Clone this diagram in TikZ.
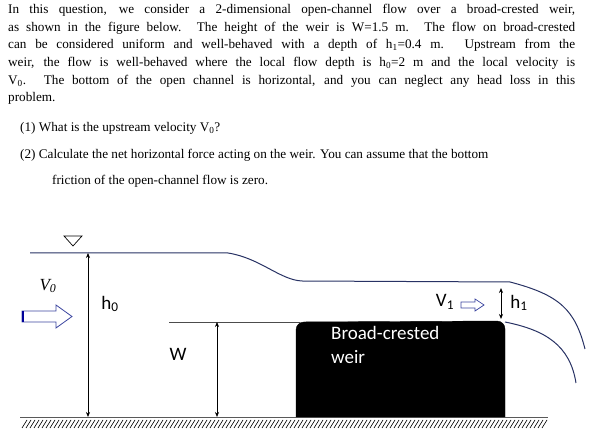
\documentclass[tikz,border=0pt]{standalone}
\usepackage{fontspec}
\setmainfont{Liberation Serif}
\newfontfamily\calfnt{Carlito}
\usetikzlibrary{arrows.meta,patterns}
\begin{document}
\begin{tikzpicture}[x=1pt,y=-1pt,
  dim/.style={{Stealth[length=5pt,width=4pt]}-{Stealth[length=5pt,width=4pt]},line width=0.7pt},
  surf/.style={draw={rgb,255:red,40;green,50;blue,100},line width=1pt},
  lbl/.style={font=\calfnt\fontsize{19}{19}\selectfont,inner sep=0pt},
  flow/.style={draw={rgb,255:red,60;green,70;blue,160},fill=white,line width=0.8pt}]
\useasboundingbox (0,0) rectangle (614,430);
\node[anchor=north west,text width=567pt,align=justify,inner sep=0pt,font=\fontsize{13.2}{17.7}\selectfont] (para) at (8,4)
{In this question, we consider a 2-dimensional open-channel flow over a broad-crested weir,\linebreak as shown in the figure below. The height of the weir is W=1.5~m. The flow on broad-crested\linebreak can be considered uniform and well-behaved with a depth of h\textsubscript{1}=0.4~m. Upstream from the\linebreak weir, the flow is well-behaved where the local flow depth is h\textsubscript{0}=2~m and the local velocity is\linebreak V\textsubscript{0}. The bottom of the open channel is horizontal, and you can neglect any head loss in this\linebreak problem.};
\node[anchor=west,inner sep=0pt,font=\fontsize{13.2}{14}\selectfont] (q1) at (20,128) {(1) What is the upstream velocity V\textsubscript{0}?};
\node[anchor=west,inner sep=0pt,font=\fontsize{13.2}{14}\selectfont] (q2) at (20,155) {(2) Calculate the net horizontal force acting on the weir. You can assume that the bottom};
\node[anchor=west,inner sep=0pt,font=\fontsize{13.2}{14}\selectfont] (q3) at (52,181) {friction of the open-channel flow is zero.};
% ground
\coordinate (g0) at (20,417); \coordinate (g1) at (548,417);
\draw[line width=0.8pt,gray!70!black] (g0) -- (g1);
\foreach \x in {22,26,...,544} \draw[line width=0.6pt] (\x,428) -- (\x+5,420);
% weir
\draw[fill=black,rounded corners=8pt] (296,417) -- (296,322) -- (505,321) [sharp corners]-- (505,417) -- cycle;
\node[lbl,text=white,align=left,anchor=west] (weir) at (331,333) {Broad-crested};
\node[lbl,text=white,anchor=west] (weir2) at (331,357) {weir};
% crest line
\draw[line width=0.6pt,gray!60!black] (169,322) -- (300,322);
% surface
\draw[surf] (30,253) -- (228,253) .. controls (260,258) and (280,280) .. (302,281) -- (510,282) .. controls (560,295) and (575,310) .. (585,349);
\draw[surf] (505,322) .. controls (545,330) and (570,345) .. (576,383);
% triangle
\draw[line width=0.7pt] (64,236) -- (82,236) -- (73,246) -- cycle;
% dims
\coordinate (a0) at (88,253); \coordinate (b0) at (88,417);
\draw[dim] (a0) -- (b0);
\coordinate (a1) at (217,322); \coordinate (b1) at (217,417);
\draw[dim] (a1) -- (b1);
\coordinate (a2) at (501,288); \coordinate (b2) at (501,319);
\draw[dim] (a2) -- (b2);
\node[lbl] (h0) at (110,304) {h\textsubscript{0}};
\node[lbl] (W) at (178,354) {W};
\node[lbl] (h1) at (519,303) {h\textsubscript{1}};
\node[lbl] (V1) at (445,302) {V\textsubscript{1}};
\node[inner sep=0pt,font=\fontsize{17}{17}\selectfont\itshape] (V0) at (48,286) {V\textsubscript{0}};
% flow arrows
\draw[flow] (22,311) -- (56,311) -- (56,305) -- (72,316.5) -- (56,328) -- (56,322) -- (22,322) -- cycle;
\draw[line width=2pt,blue!60!black] (23,311) -- (23,322);
\draw[flow,line width=0.7pt] (461,302) -- (475,302) -- (475,299) -- (484,305) -- (475,311) -- (475,308) -- (461,308) -- cycle;
\end{tikzpicture}
\end{document}
